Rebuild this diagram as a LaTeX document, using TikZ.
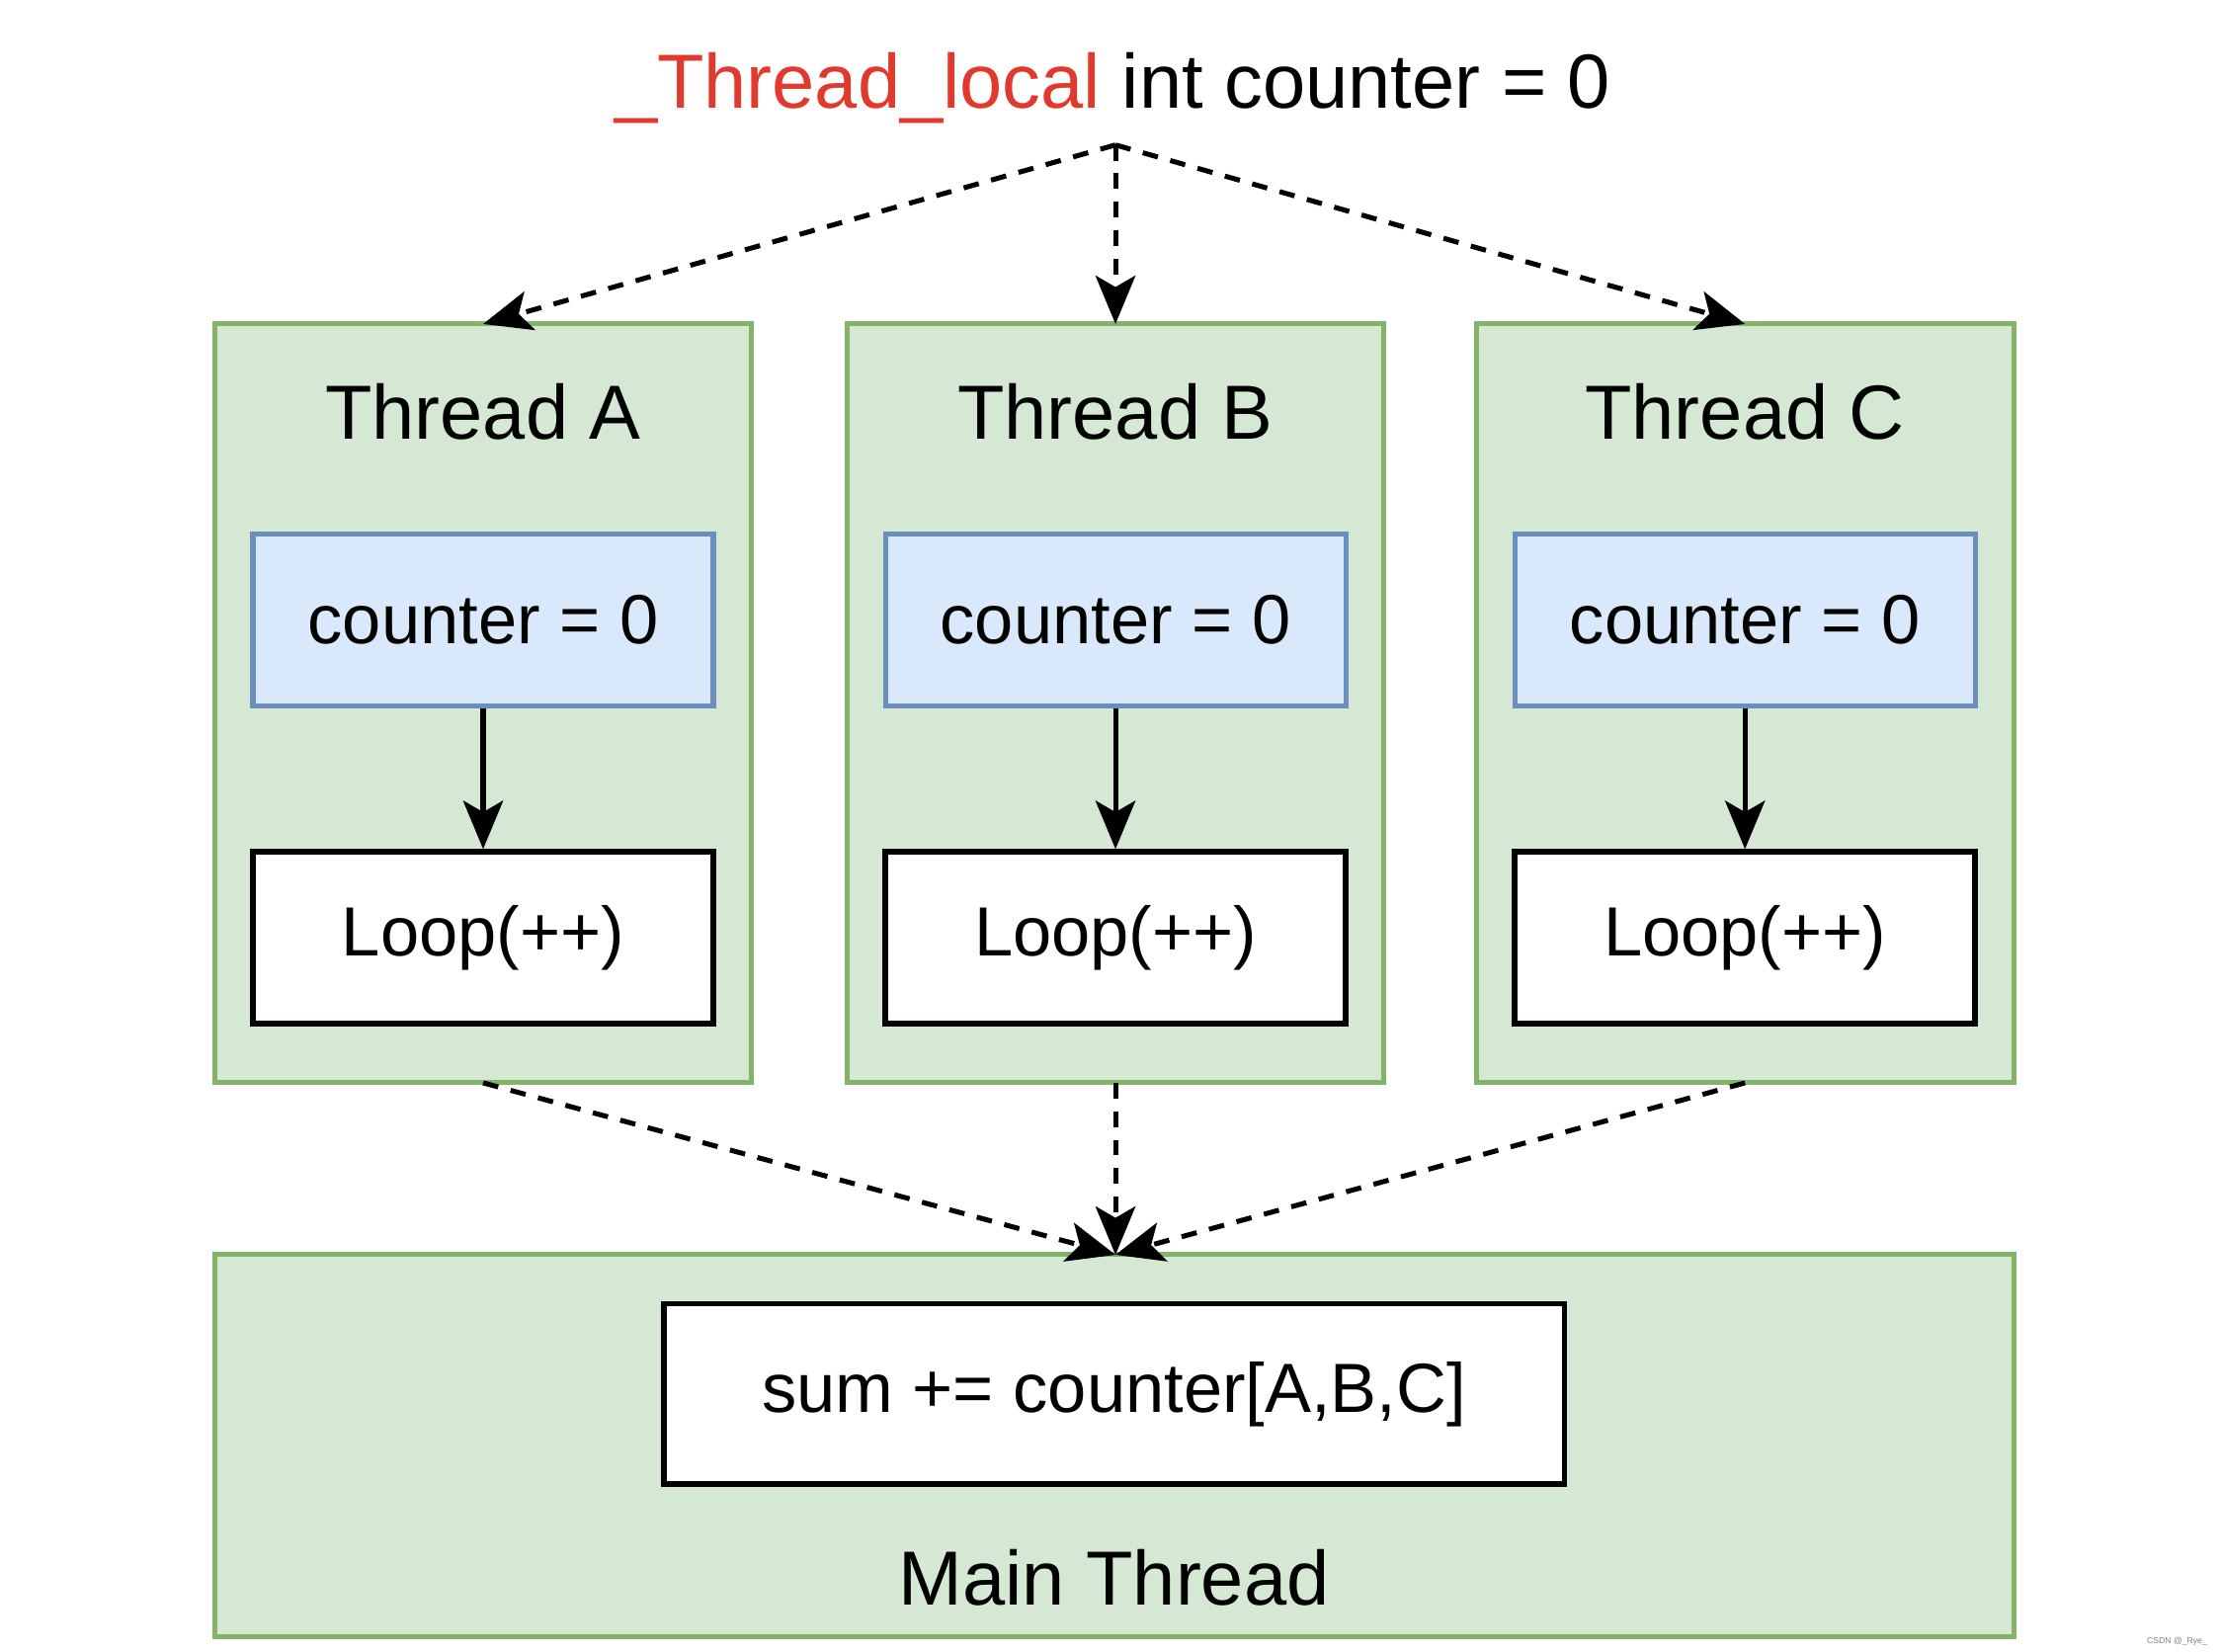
\documentclass[tikz,border=0pt]{standalone}
\usepackage{fontspec}
\setmainfont{Liberation Sans}
\usetikzlibrary{arrows.meta}
\definecolor{gfill}{HTML}{D5E8D4}\definecolor{gline}{HTML}{82B366}
\definecolor{bfill}{HTML}{DAE8FC}\definecolor{bline}{HTML}{6C8EBF}
\definecolor{tred}{HTML}{E03A2E}
\begin{document}
\begin{tikzpicture}[x=1pt,y=-1pt,
 thr/.style={draw=gline,fill=gfill,line width=3.5pt},
 blu/.style={draw=bline,fill=bfill,line width=3.5pt,font=\fontsize{49}{53}\selectfont},
 wht/.style={draw=black,fill=white,line width=4pt,font=\fontsize{49}{53}\selectfont},
 lbl/.style={font=\fontsize{54}{58}\selectfont},
 arr/.style={line width=3.5pt,-{Stealth[length=34pt,width=28pt,inset=8pt]}},
 darr/.style={arr,dash pattern=on 11pt off 9pt}]
\useasboundingbox (0,0) rectangle (1563,1162);
\node[font=\fontsize{54}{58}\selectfont] (title) at (783,62) {\textcolor{tred}{\_Thread\_local} int counter = 0};
\coordinate (src) at (785,102);
\foreach \n/\x/\l in {A/340/A,B/785/B,C/1228/C}{
  \draw[thr] (\x-189,228) rectangle (\x+189,762);
  \coordinate (top\n) at (\x,228);
  \coordinate (bot\n) at (\x,762);
  \node[lbl] (t\n) at (\x,290) {Thread \l};
  \node[blu,minimum width=324pt,minimum height=121pt] (c\n) at (\x,436) {counter = 0};
  \node[wht,minimum width=324pt,minimum height=121pt] (l\n) at (\x,660) {Loop(++)};
  \draw[arr] (c\n) -- (l\n);
  \draw[darr] (src) -- (top\n);
}
\node[thr,minimum width=1266pt,minimum height=269pt] (main) at (784,1017) {};
\coordinate (mtop) at (785,883);
\node[wht,minimum width=634pt,minimum height=127pt] (sum) at (784,981) {sum += counter[A,B,C]};
\node[lbl] (mt) at (784,1110) {Main Thread};
\foreach \n in {A,B,C}{\draw[darr] (bot\n) -- (mtop);}
\node[font=\fontsize{6}{7}\selectfont,text=gray] (wm) at (1532,1155) {CSDN @\_Rye\_};
\end{tikzpicture}
\end{document}
